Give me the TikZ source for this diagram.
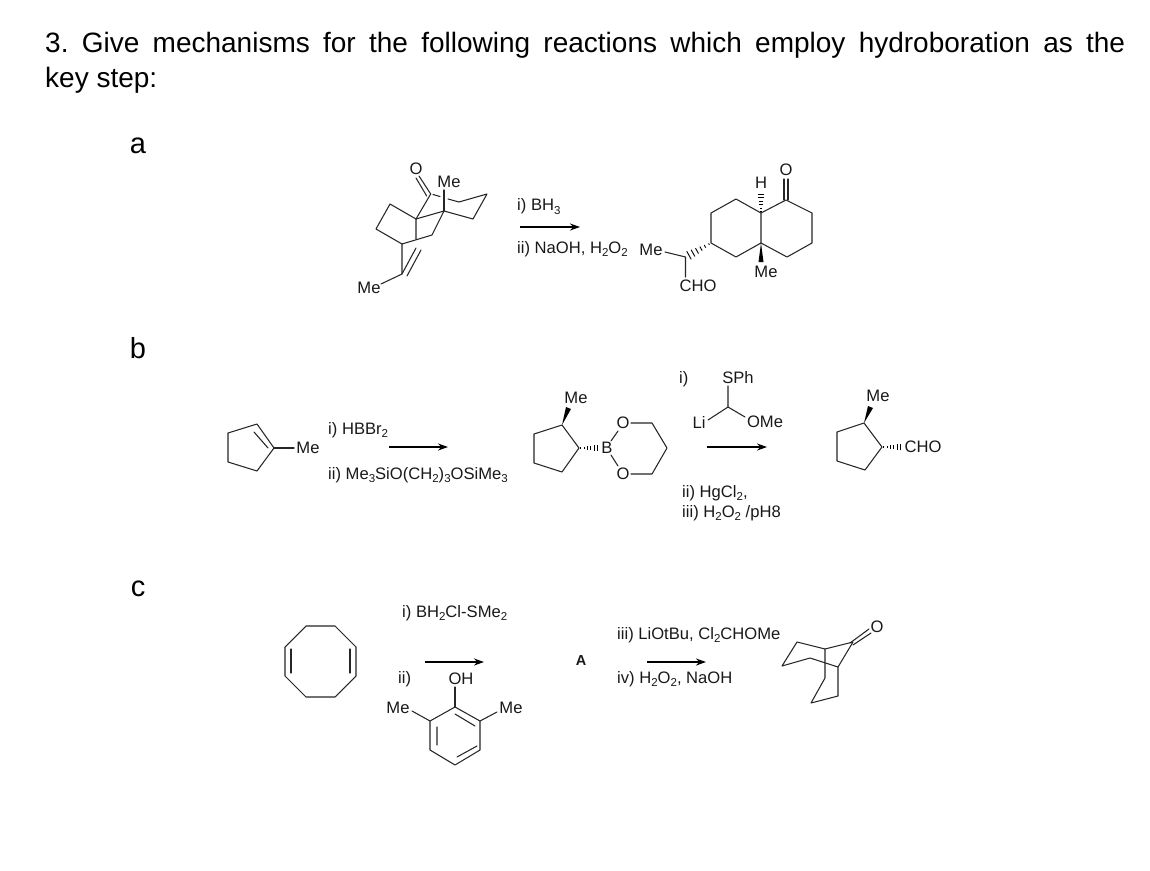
\documentclass[tikz,border=0pt]{standalone}
\usepackage{fontspec}
\setmainfont{Liberation Sans}
\usetikzlibrary{arrows.meta}
\newcommand{\sbs}[1]{\raisebox{-0.22em}{\fontsize{11.5}{11.5}\selectfont #1}}
\tikzset{
  bond/.style={draw=black!85,line width=1.05pt,line cap=round,line join=round},
  rlabel/.style={inner sep=0pt,anchor=base west,font=\fontsize{16.6}{19}\selectfont,text=black!90},
  atom/.style={inner sep=0pt,anchor=center,font=\fontsize{16.6}{19}\selectfont,text=black!90},
  part/.style={inner sep=0pt,anchor=base,font=\fontsize{29}{34}\selectfont},
  rxnarrow/.style={draw=black,line width=1.7pt,-{Stealth[length=10pt,width=7pt]}},
  wedge/.style={fill=black,draw=none},
}
\newcommand{\hashb}[4]{% x1 y1 x2 y2 (narrow end first)
  \foreach \t in {0.08,0.24,...,1.0}{
    \draw[black,line width=0.9pt]
     ({#1+\t*(#3-#1)-(\t*3.5+0.3)*(#4-#2)/21},{#2+\t*(#4-#2)+(\t*3.5+0.3)*(#3-#1)/21}) --
     ({#1+\t*(#3-#1)+(\t*3.5+0.3)*(#4-#2)/21},{#2+\t*(#4-#2)-(\t*3.5+0.3)*(#3-#1)/21});
  }}
\begin{document}
\begin{tikzpicture}[x=1pt,y=-1pt]
\useasboundingbox (0,0) rectangle (1150,870);
\fill[white] (0,0) rectangle (1150,870);
% title
\node[inner sep=0pt,anchor=north west,text width=1080pt,align=justify,font=\fontsize{28}{34.7}\selectfont\frenchspacing] (title) at (45,32)
 {3. Give mechanisms for the following reactions which employ hydroboration as the\linebreak key step:};
\node[part] (la) at (138,153) {a};
\node[part] (lb) at (138,358) {b};
\node[part] (lc) at (138,596) {c};
% ---- a: substrate
\node[atom] (ao) at (416,169) {O};
\node[atom] (ame) at (449,182) {Me};
\node[atom] (ame2) at (369,288) {Me};
\draw[bond] (402,244)--(432,235)--(444,211)--(416,219)--(390,204)--(376,229)--(402,244);
\draw[bond] (444,211)--(473,219)--(487,194)--(459,202)--(448,199) (440,196.5)--(433,194.5);
\draw[bond] (416,219)--(430.7,194);
\draw[bond] (430.7,194)--(419,176) (426.7,196)--(416,178);
\draw[bond] (444,190)--(444,211);
\draw[bond] (402,244)--(402,274)--(381,284);
\draw[bond] (416,219)--(416,239) (416,248)--(402,274) (421,250)--(407,276);
% ---- a: conditions
\node[rlabel] (a1) at (517,210.5) {i) BH\sbs{3}};
\draw[rxnarrow] (520,227)--(580,227);
\node[rlabel] (a2) at (517,253) {ii) NaOH, H\sbs{2}O\sbs{2}};
% ---- a: product
\node[atom] (pme) at (651,250) {Me};
\node[atom] (pcho) at (698,286) {CHO};
\node[atom] (pme2) at (766,272) {Me};
\node[atom] (ph) at (761,183) {H};
\node[atom] (po) at (786,170) {O};
\draw[bond] (761,213)--(736,199)--(711,213)--(711,243)--(736,257)--(761,243)--(761,213);
\draw[bond] (761,213)--(786,200)--(812,213)--(812,243)--(787,257)--(761,243);
\draw[bond] (784,200)--(784,179) (788,200)--(788,179);
\draw[bond] (665,252)--(685.5,257)--(685.5,277);
\fill[wedge] (761,243)--(758.5,262)--(763.5,262)--cycle;
\hashb{761}{213}{761}{192}
\hashb{711}{243}{686}{257}
% ---- b: cyclopentene
\node[atom] (bme) at (308,448) {Me};
\draw[bond] (274,448)--(294,448);
\draw[bond] (274,448)--(257,424)--(228,433)--(228,462)--(257,471)--cycle;
\draw[bond] (268,448)--(254,432);
\node[rlabel] (b1) at (328,434) {i) HBBr\sbs{2}};
\draw[rxnarrow] (389,447)--(448,447);
\node[rlabel] (b2) at (328,479) {ii) Me\sbs{3}SiO(CH\sbs{2})\sbs{3}OSiMe\sbs{3}};
% ---- b: boronate
\node[atom] (cme) at (576,398) {Me};
\node[atom] (cb) at (607,448) {B};
\node[atom] (co1) at (623,423) {O};
\node[atom] (co2) at (623,474) {O};
\draw[bond] (562,425)--(534,434)--(534,463)--(562,472)--(579,448)--cycle;
\fill[wedge] (562,425)--(566,407)--(571,409)--cycle;
\hashb{579}{448}{600}{448}
\draw[bond] (611,441)--(618,431) (611,455)--(618,466);
\draw[bond] (631,423)--(652,423)--(667,448)--(652,474)--(631,474);
% ---- b: conditions 2
\node[rlabel] (c1) at (679,383) {i)};
\node[atom] (csph) at (738,378) {SPh};
\draw[bond] (728,386)--(728,407)--(708,420) (728,407)--(745,417);
\node[atom] (cli) at (699,422) {Li};
\node[atom] (come) at (765,422) {OMe};
\draw[rxnarrow] (707,447)--(767,447);
\node[rlabel] (c2) at (682,497) {ii) HgCl\sbs{2},};
\node[rlabel] (c3) at (682,517) {iii) H\sbs{2}O\sbs{2} /pH8};
% ---- b: product
\node[atom] (dme) at (878,396) {Me};
\node[atom] (dcho) at (923,447) {CHO};
\draw[bond] (864,423)--(837,432)--(837,461)--(865,470)--(882,447)--cycle;
\fill[wedge] (864,423)--(868,406)--(873,408)--cycle;
\hashb{882}{447}{903}{447}
% ---- c: cyclooctene
\draw[bond] (306,626)--(335,626)--(356,647)--(356,676)--(335,697)--(306,697)--(285,676)--(285,647)--cycle;
\draw[bond] (291,649)--(291,673) (350,649)--(350,673);
% ---- c: conditions
\node[rlabel] (e1) at (402,617) {i) BH\sbs{2}Cl-SMe\sbs{2}};
\draw[rxnarrow] (425,662)--(484,662);
\node[rlabel] (e2) at (398,683) {ii)};
\node[atom] (eoh) at (461,679) {OH};
\node[atom] (eme1) at (398,708) {Me};
\node[atom] (eme2) at (511,708) {Me};
\draw[bond] (455,687)--(455,707);
\draw[bond] (455,707)--(480,721)--(480,750)--(455,765)--(430,750)--(430,721)--cycle;
\draw[bond] (455,714)--(475,726) (457,757)--(477,746) (437,727)--(437,745);
\draw[bond] (430,721)--(412,711) (480,721)--(497,712);
\node[atom,font=\fontsize{14.5}{16}\selectfont\bfseries] (ea) at (581,661) {A};
\draw[rxnarrow] (647,662)--(706,662);
\node[rlabel] (e3) at (617,639) {iii) LiOtBu, Cl\sbs{2}CHOMe};
\node[rlabel] (e4) at (617,683) {iv) H\sbs{2}O\sbs{2}, NaOH};
% ---- c: product
\node[atom] (fo) at (877,627) {O};
\draw[bond] (797,642)--(782,666)--(810,658)--(838,667)--(853,642)--(825,649)--cycle;
\draw[bond] (825,649)--(825,678)--(811,703)--(838,696)--(838,667);
\draw[bond] (850,643)--(869,629) (853,645)--(871,633);
\end{tikzpicture}
\end{document}
